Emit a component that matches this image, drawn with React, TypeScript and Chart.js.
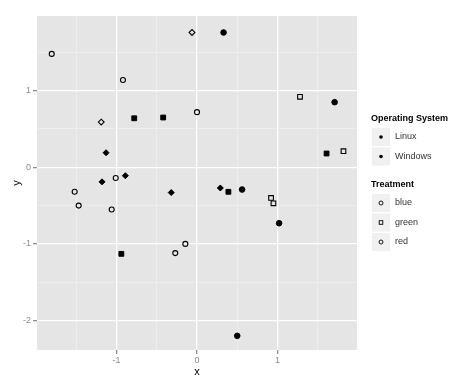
import React, { useEffect, useRef } from "react";
import { Chart, registerables } from "chart.js";

Chart.register(...registerables);

// ---- data ----
const filledCircleX = [0.33, 1.71, 0.56, 1.02, 0.5];
const filledCircleY = [1.76, 0.85, -0.29, -0.73, -2.2];
const filledDiamondX = [-1.13, -1.18, -0.89, -0.32, 0.29];
const filledDiamondY = [0.19, -0.19, -0.11, -0.33, -0.27];
const filledSquareX = [-0.78, -0.42, 0.39, 1.61, -0.94];
const filledSquareY = [0.64, 0.65, -0.32, 0.18, -1.13];
const openCircleX = [-1.805, -0.92, 0.0, -1.01, -1.52, -1.47, -1.06, -0.27, -0.145];
const openCircleY = [1.48, 1.14, 0.72, -0.14, -0.32, -0.5, -0.55, -1.12, -1.0];
const openDiamondX = [-0.062, -1.19];
const openDiamondY = [1.76, 0.59];
const openSquareX = [1.28, 1.82, 0.92, 0.95];
const openSquareY = [0.92, 0.21, -0.4, -0.47];

const xTicks = [-1.5, -1, -0.5, 0, 0.5, 1, 1.5];
const yTicks = [-2, -1.5, -1, -0.5, 0, 0.5, 1, 1.5];
const xTitle = "x";
const yTitle = "y";
const osTitle = "Operating System";
const osLabels = ["Linux", "Windows"];
const trtTitle = "Treatment";
const trtLabels = ["blue", "green", "red"];
const trtShapes = ["circle", "rect", "circle"];

const pts = (xs: number[], ys: number[]) => xs.map((x, i) => ({ x, y: ys[i] }));
const isMajor = (v: number) => Number.isInteger(v);

const FONT = "'Liberation Sans', Arial, sans-serif";

const extras = {
  id: "extras",
  beforeDraw(chart: any) {
    const { ctx, chartArea: a } = chart;
    ctx.save();
    ctx.fillStyle = "#ffffff";
    ctx.fillRect(0, 0, chart.width, chart.height);
    ctx.fillStyle = "#e5e5e5";
    ctx.fillRect(a.left, a.top, a.right - a.left, a.bottom - a.top);
    ctx.restore();
  },
  afterDraw(chart: any) {
    const { ctx, chartArea: a } = chart;
    ctx.save();
    ctx.fillStyle = "#000000";
    ctx.font = `11px ${FONT}`;
    ctx.textAlign = "center";
    ctx.textBaseline = "middle";
    ctx.fillText(xTitle, (a.left + a.right) / 2, 372);
    ctx.save();
    ctx.translate(17, (a.top + a.bottom) / 2);
    ctx.rotate(-Math.PI / 2);
    ctx.fillText(yTitle, 0, 0);
    ctx.restore();

    // legend
    const kx = 372;
    const ks = 18;
    const tx = 395;
    ctx.textAlign = "left";
    ctx.font = `bold 9px ${FONT}`;
    ctx.fillText(osTitle, 371, 119);
    ctx.fillText(trtTitle, 371, 185);
    ctx.font = `9px ${FONT}`;
    const drawKey = (cy: number, shape: string, filled: boolean, label: string) => {
      ctx.fillStyle = "#f0f0f0";
      ctx.fillRect(kx, cy - ks / 2, ks, ks);
      ctx.strokeStyle = "#000";
      ctx.fillStyle = "#000";
      ctx.lineWidth = 0.9;
      const cx = kx + ks / 2;
      if (filled) {
        ctx.beginPath();
        ctx.arc(cx, cy, 1.8, 0, Math.PI * 2);
        ctx.fill();
      } else if (shape === "rect") {
        ctx.strokeRect(cx - 1.8, cy - 1.8, 3.6, 3.6);
      } else {
        ctx.beginPath();
        ctx.arc(cx, cy, 2, 0, Math.PI * 2);
        ctx.stroke();
      }
      ctx.fillStyle = "#333333";
      ctx.fillText(label, tx, cy);
    };
    osLabels.forEach((l, i) => drawKey(137 + i * 19.5, "circle", true, l));
    trtLabels.forEach((l, i) => drawKey(203 + i * 19.5, trtShapes[i], false, l));
    ctx.restore();
  },
};

const gridOpts = {
  color: (c: any) => (c.tick && isMajor(c.tick.value) ? "#ffffff" : "#f2f2f2"),
  lineWidth: (c: any) => (c.tick && isMajor(c.tick.value) ? 1.3 : 0.6),
  tickColor: (c: any) => (c.tick && isMajor(c.tick.value) ? "#8c8c8c" : "rgba(0,0,0,0)"),
  tickLength: 4,
  drawTicks: true,
};

export default function App() {
  const ref = useRef<HTMLCanvasElement>(null);
  useEffect(() => {
    const filled = { backgroundColor: "#000", borderColor: "#000", borderWidth: 1 };
    const open = { backgroundColor: "rgba(0,0,0,0)", borderColor: "#000", borderWidth: 1.1 };
    const chart = new Chart(ref.current!, {
      type: "scatter",
      data: {
        datasets: [
          { label: "fc", data: pts(filledCircleX, filledCircleY), pointStyle: "circle", pointRadius: 2.8, ...filled },
          { label: "fd", data: pts(filledDiamondX, filledDiamondY), pointStyle: "rectRot", pointRadius: 3, ...filled },
          { label: "fs", data: pts(filledSquareX, filledSquareY), pointStyle: "rect", pointRadius: 3.4, ...filled },
          { label: "oc", data: pts(openCircleX, openCircleY), pointStyle: "circle", pointRadius: 2.5, ...open },
          { label: "od", data: pts(openDiamondX, openDiamondY), pointStyle: "rectRot", pointRadius: 2.9, ...open },
          { label: "os", data: pts(openSquareX, openSquareY), pointStyle: "rect", pointRadius: 3.3, ...open },
        ] as any,
      },
      options: {
        animation: false,
        responsive: false,
        devicePixelRatio: 1,
        layout: { padding: { top: 16, right: 117, left: 0, bottom: 0 } },
        plugins: { legend: { display: false }, tooltip: { enabled: false } },
        scales: {
          x: {
            type: "linear",
            min: -1.988,
            max: 1.988,
            afterBuildTicks: (s: any) => {
              s.ticks = xTicks.map((v) => ({ value: v }));
            },
            afterFit: (s: any) => {
              s.height = 37;
            },
            border: { display: false },
            grid: gridOpts as any,
            ticks: {
              autoSkip: false,
              maxRotation: 0,
              padding: 1,
              color: "#8c8c8c",
              font: { size: 9, family: FONT },
              callback: (v: any) => (isMajor(Number(v)) ? String(v) : ""),
            },
          },
          y: {
            type: "linear",
            min: -2.385,
            max: 1.975,
            afterBuildTicks: (s: any) => {
              s.ticks = yTicks.map((v) => ({ value: v }));
            },
            afterFit: (s: any) => {
              s.width = 37;
            },
            border: { display: false },
            grid: gridOpts as any,
            ticks: {
              autoSkip: false,
              padding: 2,
              color: "#8c8c8c",
              font: { size: 9, family: FONT },
              callback: (v: any) => (isMajor(Number(v)) ? String(v) : ""),
            },
          },
        },
      },
      plugins: [extras],
    });
    return () => chart.destroy();
  }, []);
  return (
    <div style={{ position: "absolute", left: 0, top: 0, width: 474, height: 387 }}>
      <canvas ref={ref} width={474} height={387} />
    </div>
  );
}
